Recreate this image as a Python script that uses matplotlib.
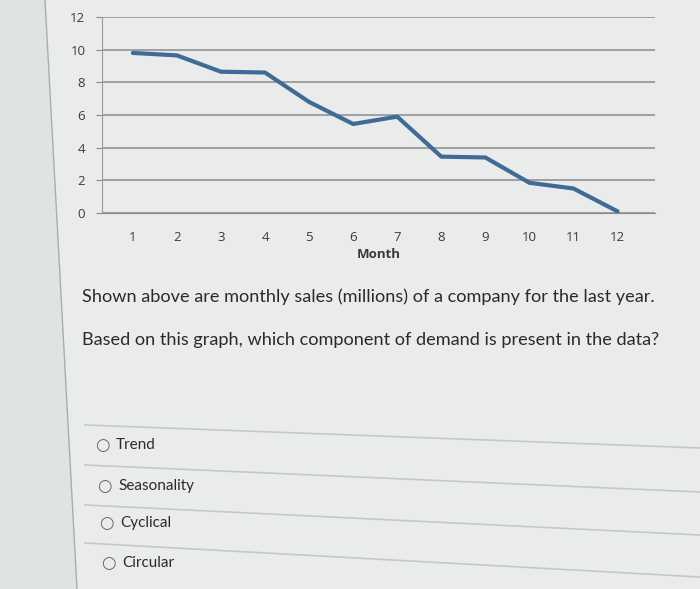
import matplotlib
matplotlib.use("Agg")
import matplotlib.pyplot as plt
from matplotlib.lines import Line2D
from matplotlib.patches import Polygon

# data
months = [1, 2, 3, 4, 5, 6, 7, 8, 9, 10, 11, 12]
sales = [9.8, 9.65, 8.65, 8.6, 6.8, 5.45, 5.9, 3.45, 3.4, 1.85, 1.5, 0.1]
y_ticks = [0, 2, 4, 6, 8, 10, 12]
question = ["Shown above are monthly sales (millions) of a company for the last year.",
            "Based on this graph, which component of demand is present in the data?"]
choices = ["Trend", "Seasonality", "Cyclical", "Circular"]

bg = "#eaecec"
fig = plt.figure(figsize=(7, 5.89), dpi=100, facecolor=bg)
W, H = 700, 589

# darker strip left of the page border (photo of a screen)
fig.add_artist(Polygon([[0, 1], [45 / W, 1], [77 / W, 0], [0, 0]], closed=True,
                       facecolor="#dfe3e4", edgecolor="none", transform=fig.transFigure))
fig.add_artist(Line2D([45 / W, 77 / W], [1, 0], color="#a9adae", linewidth=1.0))

ax = fig.add_axes([102 / W, 1 - 213 / H, 553 / W, 196 / H])
ax.set_facecolor(bg)
ax.plot(months, sales, color="#3f6b96", linewidth=3, solid_capstyle="round")
ax.set_xlim(0.3, 12.85)
ax.set_ylim(0, 12)
ax.set_yticks(y_ticks)
ax.set_xticks(months)
ax.grid(axis="y", color="#8a8c8c", linewidth=1.1)
ax.set_axisbelow(True)
for s in ["top", "right"]:
    ax.spines[s].set_visible(False)
ax.spines["left"].set_color("#9a9c9c")
ax.spines["bottom"].set_color("#8a8c8c")
ax.tick_params(axis="y", length=4, color="#8a8c8c", labelsize=9.5,
               labelcolor="#3a3a3a", pad=8)
ax.tick_params(axis="x", length=0, labelsize=9.5, labelcolor="#3a3a3a", pad=13)
for lab in ax.get_xticklabels() + ax.get_yticklabels():
    lab.set_fontfamily("Open Sans")
ax.set_xlabel("Month", fontsize=9.5, fontweight="bold", color="#3a3a3a",
              fontfamily="Open Sans", labelpad=3)

# question text
fig.text(82 / W, 1 - 297 / H, question[0], fontsize=13.1, fontfamily="Lato",
         color="#2a2a2a", va="center")
fig.text(82 / W, 1 - 340 / H, question[1], fontsize=13.1, fontfamily="Lato",
         color="#2a2a2a", va="center")

# answer rows and separators (photo is slightly tilted)
opt_y = [445, 486, 523, 563]
opt_x = [102, 104, 106, 108]
for i, c in enumerate(choices):
    fig.text(opt_x[i] / W, 1 - opt_y[i] / H, "\u25cb", fontsize=12,
             color="#666666", va="center", ha="center", fontfamily="DejaVu Sans")
    fig.text((opt_x[i] + 14) / W, 1 - opt_y[i] / H, c, fontsize=11,
             fontfamily="Lato", color="#2a2a2a", va="center")

sep = [(425, 448), (465, 492), (505, 535), (543, 577)]
for y0, y1 in sep:
    fig.add_artist(Line2D([85 / W, 1.0], [1 - y0 / H, 1 - y1 / H],
                          color="#c4c8c6", linewidth=1.2))

fig.savefig("out.png", dpi=100, facecolor=bg)
